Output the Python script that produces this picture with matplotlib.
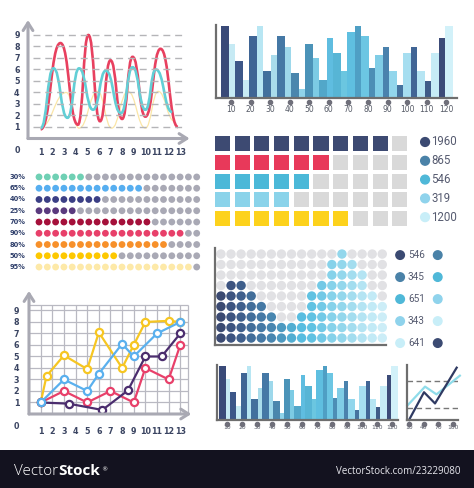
import numpy as np
import matplotlib
matplotlib.use("Agg")
import matplotlib.pyplot as plt
from matplotlib.path import Path
from matplotlib.patches import PathPatch, Rectangle

# ---- data ----
# top-left wave chart: peaks / valleys of each curve
red_x = [1, 2.7, 4.2, 5.1, 6.1, 7.0, 8.0, 8.9, 10.0, 11.3, 12.8]
red_y = [0.8, 8.3, 1.2, 9.0, 1.5, 6.8, 1.7, 7.1, 1.9, 7.8, 1.0]
cyan_x = [1, 2.1, 3.3, 4.3, 5.5, 6.6, 7.9, 8.9, 10.0, 10.9, 12.3]
cyan_y = [0.9, 6.1, 1.8, 6.1, 2.5, 5.9, 2.2, 6.2, 2.5, 6.0, 2.3]
pale_x = [1, 3.2, 4.3, 5.9, 7.1, 8.5, 10.0, 11.1, 12.5]
pale_y = [1, 4.0, 0.9, 4.1, 0.9, 4.1, 0.9, 4.1, 1.5]

# bar charts (two interleaved series)
wide_vals = [10, 5.1, 8.6, 3.8, 8.6, 3.5, 7.5, 2.5, 6.2, 9.1, 8.6, 5.9, 3.8, 6.2, 3.8, 6.2, 10]
narrow_vals = [7.5, 2.5, 10, 5.9, 7.1, 1.3, 5.5, 8.3, 3.8, 10, 4.1, 7.1, 1.8, 7.1, 2.3, 8.3]
bar_ticks = [10, 20, 30, 40, 50, 60, 70, 80, 90, 100, 110, 120]

# square waffle
sq_counts = [9, 6, 5, 4, 7]
sq_legend = ["1960", "865", "546", "319", "1200"]

# dot rows
pct_labels = ["30%", "65%", "40%", "25%", "70%", "90%", "80%", "50%", "95%"]
pct_vals = [30, 65, 40, 25, 70, 90, 80, 50, 95]

# bottom-left line chart
yel_x = [1, 1.5, 3, 5, 6, 8, 9, 10, 12, 13]
yel_y = [1, 3.3, 5.1, 3.9, 7.1, 4.0, 6.0, 8.0, 8.1, 8.0]
blu_x = [1, 3, 5, 6, 8, 9, 11, 13]
blu_y = [1, 3.0, 2.0, 3.5, 6.1, 5.0, 7.0, 8.0]
pur_x = [1, 3.4, 6.3, 8.5, 10, 11.4, 13]
pur_y = [1, 0.9, 0.35, 2.05, 5.0, 5.0, 7.0]
red2_x = [1, 3, 5, 7, 9, 10, 12, 13]
red2_y = [1, 2.0, 1.0, 2.0, 1.0, 4.0, 3.0, 6.0]

# dot waffle columns
col_heights = [5, 6, 6, 5, 4, 3, 2, 2, 3, 5, 6, 8, 9, 8, 7, 5, 4]
dot_legend = ["546", "345", "651", "343", "641"]

# small trend chart
dark_x = [10, 40.7, 63.2, 107.5]
dark_y = [0, 5.2, 3.1, 9.8]
light_x = [6.6, 42.8, 66.2, 114]
light_y = [2.7, 6.25, 4.8, 8.3]
trend_ticks = [10, 40, 70, 100]
trend_refs = [7.3, 2.3]

# ---- styles ----
W, H = 474, 488
AXC = "#a9a9b3"
TXT = "#3b4562"
fig = plt.figure(figsize=(W / 100, H / 100), dpi=100)
fig.patch.set_facecolor("white")


def add_px(l, t, r, b):
    return fig.add_axes([l / W, 1 - b / H, (r - l) / W, (b - t) / H])


def wave_path(xs, ys, k):
    verts = [(xs[0], ys[0])]
    codes = [Path.MOVETO]
    for i in range(1, len(xs)):
        dx = xs[i] - xs[i - 1]
        verts += [(xs[i - 1] + k * dx, ys[i - 1]), (xs[i] - k * dx, ys[i]), (xs[i], ys[i])]
        codes += [Path.CURVE4] * 3
    return Path(verts, codes)


def arrow_axes(ax, x0, y0, xt, yt):
    for tip in [(x0, yt), (xt, y0)]:
        ax.annotate("", xy=tip, xytext=(x0, y0),
                    arrowprops=dict(arrowstyle="->,head_length=0.55,head_width=0.35",
                                    color=AXC, lw=2.2, mutation_scale=10,
                                    shrinkA=0, shrinkB=0), annotation_clip=False)


def plain_ticks(ax, xt, yt, pad_x, pad_y, size=5.8):
    for s in ax.spines.values():
        s.set_visible(False)
    ax.set_xticks(xt)
    ax.set_yticks(yt)
    ax.tick_params(length=0, labelsize=size, labelcolor=TXT)
    ax.tick_params(axis="x", pad=pad_x)
    ax.tick_params(axis="y", pad=pad_y)
    for lab in ax.get_xticklabels() + ax.get_yticklabels():
        lab.set_fontweight("bold")
    ax.patch.set_alpha(0)


# ---- panel 1: waves ----
ax1 = add_px(28, 22, 196, 138.5)
ax1.set_xlim(-0.09, 14.35)
ax1.set_ylim(0, 10.13)
plain_ticks(ax1, range(1, 14), range(1, 10), 7, 6)
ax1.hlines(range(1, 10), 0.34, 13.15, colors="#b5b5b8", lw=1, linestyles=(0, (5, 3.5)))
ax1.add_patch(PathPatch(wave_path(pale_x, pale_y, 0.45), fill=False, ec="#fbe6a6", lw=0.9))
ax1.add_patch(PathPatch(wave_path(red_x, red_y, 0.5), fill=False, ec="#e8405f", lw=1.9))
ax1.add_patch(PathPatch(wave_path(cyan_x, cyan_y, 0.5), fill=False, ec="#62cfd6", lw=1.9))
arrow_axes(ax1, -0.09, 0, 13.8, 10.3)
ax1.text(-1.04, -1.0, "0", ha="center", va="center", fontsize=5.8, color=TXT,
         fontweight="bold", clip_on=False)


# ---- bar charts ----
wide_cols = ['#3a4a78', '#3d5788', '#3f6595', '#42709d', '#4578a5', '#4a86ad', '#4b93b8',
             '#52a7c9', '#57b5d5', '#5fbfe0', '#6cc6e3', '#80cde6', '#92d6ec', '#a6def0',
             '#b6e5f3', '#c6ecf6', '#d2f1f9']
narrow_cols = ['#c6eaf4', '#c8ecf5', '#b8e6f3', '#a9dceb', '#9dd8eb', '#8fd3ea', '#7ccbe4',
               '#5fbde0', '#6bc6e0', '#4f9fc4', '#4c8eb5', '#4a82ad', '#46739f', '#416595',
               '#3f5b88', '#3c4b78']


def draw_bars(ax, xr, lab_size, pad, dot_y):
    ax.set_xlim(*xr)
    ax.set_ylim(0, 10.1)
    ax.bar(np.arange(len(wide_vals)), wide_vals, width=0.62, align="edge", color=wide_cols)
    ax.bar(np.arange(len(narrow_vals)) + 0.62, narrow_vals, width=0.38, align="edge",
           color=narrow_cols)
    tpos = 0.74 + (np.array(bar_ticks) - 10) / 10 * 1.397
    ax.scatter(tpos, np.full(len(tpos), dot_y), s=9, color="#6f6f7a", clip_on=False, zorder=3)
    for s in ["top", "right"]:
        ax.spines[s].set_visible(False)
    for s in ["left", "bottom"]:
        ax.spines[s].set_color("#6e6e6e")
        ax.spines[s].set_linewidth(1.6)
    ax.set_xticks(tpos, [str(v) for v in bar_ticks])
    ax.set_yticks([])
    ax.tick_params(axis="x", length=0, labelsize=lab_size, labelcolor="#555a66", pad=pad)
    ax.patch.set_alpha(0)


ax2 = add_px(216, 25, 457, 98)
draw_bars(ax2, (-0.336, 16.88), 5.5, 5.0, -0.55)
ax7 = add_px(217, 365, 398, 420)
draw_bars(ax7, (-0.19, 16.63), 4.3, 3.6, -0.75)

# ---- panel 3: square waffle ----
sq_cols = ["#3d4a72", "#e8395a", "#4bb8d8", "#8ad3ea", "#fdd21c"]
leg_cols = ["#3b4a72", "#4a82a8", "#4fb8d8", "#8fd3ec", "#c8eef8"]
ax3 = add_px(205, 130, 470, 232)
ax3.set_xlim(-0.888, 12.56)
ax3.set_ylim(4.71, -0.718)
ax3.axis("off")
for r, n in enumerate(sq_counts):
    cols = np.arange(10)
    ax3.scatter(cols, np.full(10, r), marker="s", s=118, linewidths=0,
                color=[sq_cols[r] if c < n else "#d9d9d9" for c in cols])
ax3.scatter(np.full(5, 10.28), np.arange(5) - 0.08, s=40, color=leg_cols)
for r, t in enumerate(sq_legend):
    ax3.text(10.6, r - 0.08, t, ha="left", va="center", fontsize=8.3, color="#565b70",
             family="Roboto")

# ---- panel 4: dot rows ----
row_cols = ["#6fd0b4", "#56aef0", "#3b3f85", "#5a3a7e", "#a5103a", "#e8406a", "#f7902a",
            "#fdc800", "#fde9a8"]
ax4 = add_px(0, 170, 205, 273)
ax4.set_xlim(-4.7, 20.0)
ax4.set_ylim(8.53, -0.62)
ax4.axis("off")
for r, p in enumerate(pct_vals):
    n = int(round(p * 20 / 100))
    cols = np.arange(20)
    ax4.scatter(cols, np.full(20, r), s=24, linewidths=0,
                color=[row_cols[r] if c < n else "#a9a9b5" for c in cols])
    ax4.text(-2.55, r, pct_labels[r], ha="center", va="center", fontsize=4.8,
             color="#2f3f6b", fontweight="bold")

# ---- panel 5: line chart with grid ----
ax5 = add_px(29, 293, 197, 414)
ax5.set_xlim(-0.006, 14.44)
ax5.set_ylim(0, 10.52)
plain_ticks(ax5, range(1, 14), range(1, 10), 9, 7)
ax5.vlines(list(range(1, 14)) + [13.7], 0, 9.5, colors="#b9b9c2", lw=0.9)
ax5.hlines(list(range(1, 10)) + [9.5], 0, 13.7, colors="#b9b9c2", lw=0.9)
for xs, ys, c in [(yel_x, yel_y, "#f6c622"), (red2_x, red2_y, "#e8406a"),
                  (pur_x, pur_y, "#4b2d6e"), (blu_x, blu_y, "#5ab0ee")]:
    ax5.plot(xs, ys, color=c, lw=1.6, marker="o", ms=5.2, mfc="white", mec=c, mew=1.6)
arrow_axes(ax5, -0.006, 0, 13.95, 10.7)
ax5.text(-1.1, -1.1, "0", ha="center", va="center", fontsize=5.8, color=TXT,
         fontweight="bold", clip_on=False)

# ---- panel 6: dot waffle ----
col_cols = ["#3b4a72", "#3d5480", "#3f5f8c", "#426e9a", "#4579a5", "#4886b0", "#4c99c0",
            "#52aed2", "#58bde0", "#60c2e2", "#72c9e6", "#86d2ea", "#93d7ec", "#a3ddef",
            "#b4e4f3", "#c2eaf6", "#ccedf7"]
ax6 = add_px(205, 245, 470, 350)
ax6.set_xlim(-1.58, 24.7)
ax6.set_ylim(-1.14, 8.86)
ax6.axis("off")
for c, h in enumerate(col_heights):
    rows = np.arange(9)
    ax6.scatter(np.full(9, c), rows, s=46, linewidths=0,
                color=[col_cols[c] if r < h else "#e1e1e4" for r in rows])
ax6.plot([-0.56, -0.56], [-0.67, 8.62], color="#6e6e6e", lw=1.6)
ax6.plot([-0.56, 16.35], [-0.67, -0.67], color="#6e6e6e", lw=1.6)
leg_y = 7.9 - 2.095 * np.arange(5)
ax6.scatter(np.full(5, 17.77), leg_y, s=38, color=leg_cols, clip_on=False)
ax6.scatter(np.full(5, 21.5), leg_y, s=38, color=leg_cols[1:] + leg_cols[:1], clip_on=False)
for y, t in zip(leg_y, dot_legend):
    ax6.text(18.55, y, t, ha="left", va="center", fontsize=7.2, color="#565b70",
             family="Roboto")

# ---- panel 8: small trend ----
ax8 = add_px(407, 365, 458, 420)
ax8.set_xlim(5.9, 110.2)
ax8.set_ylim(0, 10.3)
ax8.hlines(trend_refs, 5.9, 110.2, colors="#777777", lw=1, linestyles=(0, (4, 2.5)))
ax8.plot(light_x, light_y, color="#8fdcea", lw=1.6, clip_on=False)
ax8.plot(dark_x, dark_y, color="#2f3a62", lw=1.6, clip_on=False)
ax8.scatter(trend_ticks, np.full(4, -0.75), s=9, color="#6f6f7a", clip_on=False, zorder=3)
for s in ["top", "right"]:
    ax8.spines[s].set_visible(False)
for s in ["left", "bottom"]:
    ax8.spines[s].set_color("#6e6e6e")
    ax8.spines[s].set_linewidth(1.6)
ax8.set_xticks(trend_ticks, [str(v) for v in trend_ticks])
ax8.set_yticks([])
ax8.tick_params(axis="x", length=0, labelsize=4.3, labelcolor="#555a66", pad=3.6)
ax8.patch.set_alpha(0)

# ---- banner ----
fig.patches.append(Rectangle((0, 0), 1, (H - 450) / H, transform=fig.transFigure,
                             facecolor="#13121f", edgecolor="none", zorder=0))
base_y = 1 - 475 / H
t1 = fig.text(14 / W, base_y, "Vector", fontsize=11, color="white",
              family="Open Sans", fontweight="light", va="baseline")
fig.canvas.draw()
ext = t1.get_window_extent()
t2 = fig.text(ext.x1 / W, base_y, "Stock", fontsize=11, color="white",
              family="Open Sans", fontweight="bold", va="baseline")
fig.canvas.draw()
ext2 = t2.get_window_extent()
fig.text(ext2.x1 / W + 0.002, ext2.y1 / H - 0.006, "®", fontsize=4.5, color="white",
         va="top", ha="left")
fig.text(460 / W, 1 - 471 / H, "VectorStock.com/23229080", fontsize=7, color="#e8e8ee",
         family="Open Sans", ha="right", va="center")

fig.savefig("out.png", dpi=100)
